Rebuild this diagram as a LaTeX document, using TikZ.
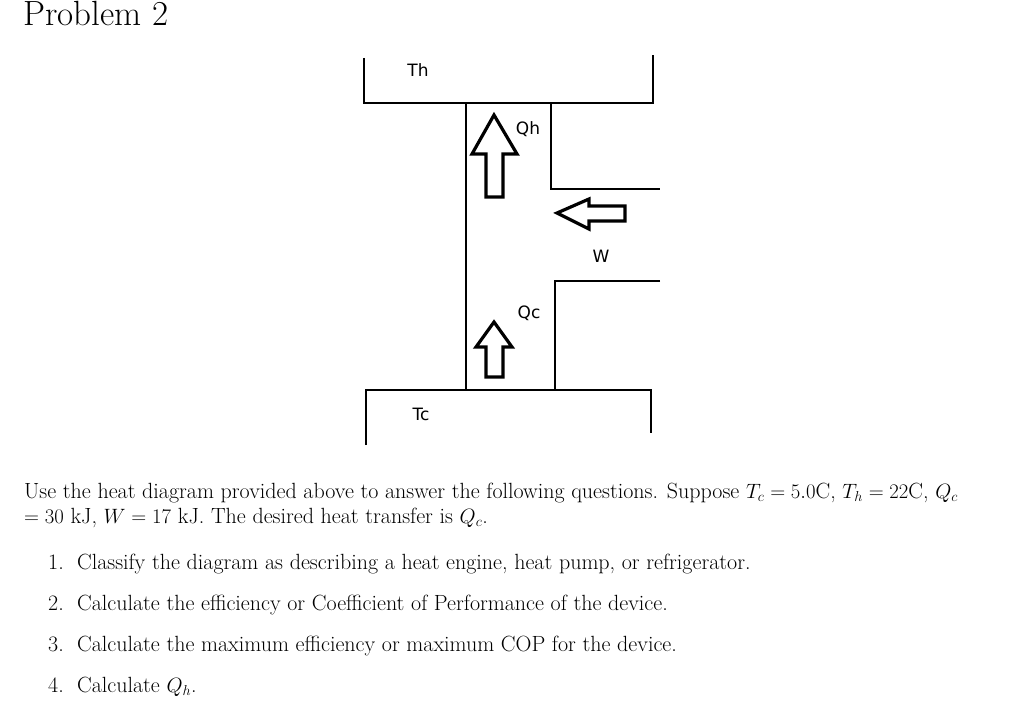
\documentclass[tikz,border=0pt]{standalone}
\usepackage{fontspec}
\newfontfamily\djsans{DejaVu Sans}
\begin{document}
\begin{tikzpicture}[x=1pt,y=-1pt,
  ln/.style={line width=1.8pt},
  arr/.style={line width=3.2pt,line join=miter},
  lab/.style={font=\djsans\fontsize{17}{20}\selectfont,inner sep=0pt},
  txt/.style={font=\fontsize{22}{26}\selectfont,inner sep=0pt,anchor=base west}]
\useasboundingbox (0,0) rectangle (1024,709);
\draw[ln] (364,58) -- (364,103) -- (653,103) -- (653,55);
\draw[ln] (466,103) -- (466,390);
\draw[ln] (551,103) -- (551,189) -- (660,189);
\draw[ln] (660,281) -- (555,281) -- (555,390);
\draw[ln] (366,445) -- (366,390) -- (651,390) -- (651,433);
\draw[arr] (494,115) -- (517,154) -- (503,154) -- (503,197) -- (486,197) -- (486,154) -- (472,154) -- cycle;
\draw[arr] (494,322) -- (512,347) -- (503,347) -- (503,377) -- (486,377) -- (486,347) -- (476,347) -- cycle;
\draw[arr] (557,213) -- (589,199) -- (589,206) -- (625,206) -- (625,221) -- (589,221) -- (589,229) -- cycle;
\node[lab] (th) at (418,70) {Th};
\node[lab] (qh) at (528,129) {Qh};
\node[lab] (w) at (601,256) {W};
\node[lab] (qc) at (529,313) {Qc};
\node[lab] (tc) at (421,414) {Tc};
\node[txt,font=\fontsize{35}{40}\selectfont] (title) at (23,26) {Problem 2};
\node[txt] (l1) at (24,498) {Use the heat diagram provided above to answer the following questions. Suppose $T_c=5.0$C, $T_h=22$C, $Q_c$};
\node[txt] (l2) at (24,523) {$=30$ kJ, $W=17$ kJ. The desired heat transfer is $Q_c$.};
\node[txt] (n1) at (48,569) {1.\ \ Classify the diagram as describing a heat engine, heat pump, or refrigerator.};
\node[txt] (n2) at (48,610) {2.\ \ Calculate the efficiency or Coefficient of Performance of the device.};
\node[txt] (n3) at (48,651) {3.\ \ Calculate the maximum efficiency or maximum COP for the device.};
\node[txt] (n4) at (48,692) {4.\ \ Calculate $Q_h$.};
\end{tikzpicture}
\end{document}
